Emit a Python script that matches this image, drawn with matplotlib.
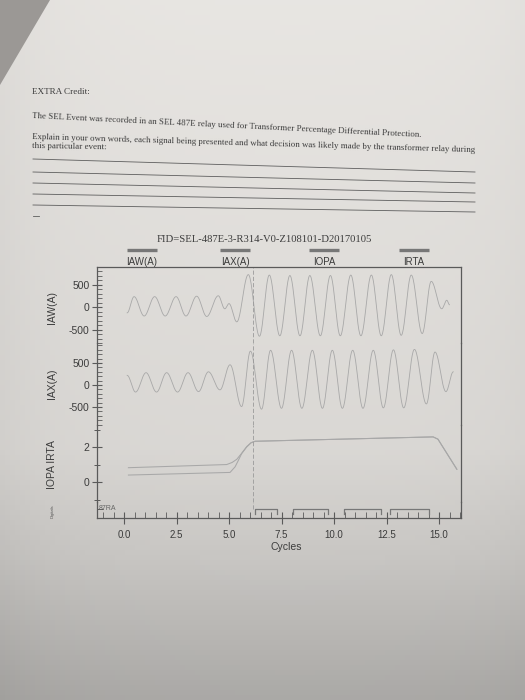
import numpy as np
import matplotlib
matplotlib.use("Agg")
import matplotlib.pyplot as plt
from matplotlib.lines import Line2D
from matplotlib.patches import Polygon
from matplotlib.ticker import MultipleLocator

W, H = 525, 700

# ─── data ────────────────────────────────────────────────────────────────────
# IAW(A): start point, every peak / trough, end point  (cycles, amps)
iaw_t = [0.15, 0.48, 0.96, 1.46, 1.96, 2.48, 2.95, 3.46, 3.94, 4.49, 4.80, 5.00,
         5.37, 5.92, 6.45, 6.92, 7.42, 7.90, 8.38, 8.85, 9.35, 9.83, 10.30,
         10.80, 11.28, 11.78, 12.25, 12.73, 13.20, 13.68, 14.20, 14.63, 15.13,
         15.37, 15.50]
iaw_v = [-130, 230, -200, 230, -200, 230, -200, 240, -210, 250, -40, 75,
         -330, 720, -650, 710, -640, 700, -640, 700, -640, 700, -640,
         710, -640, 710, -640, 720, -630, 710, -590, 570, -40,
         150, 50]

# IAX(A)
iax_t = [0.15, 0.55, 1.05, 1.55, 2.03, 2.55, 3.05, 3.55, 4.02, 4.57, 5.05,
         5.60, 6.02, 6.55, 6.98, 7.50, 7.98, 8.47, 8.97, 9.45, 9.92, 10.40,
         10.89, 11.38, 11.87, 12.35, 12.83, 13.32, 13.83, 14.40, 14.81, 15.33,
         15.68]
iax_v = [220, -160, 280, -160, 280, -160, 280, -150, 300, -110, 460,
         -490, 770, -550, 790, -530, 790, -530, 790, -530, 790, -530,
         790, -530, 790, -520, 800, -520, 810, -430, 750, -150,
         300]

# IRTA / IOPA (per unit)
irta_t = [0.21, 4.89, 5.15, 5.37, 5.60, 5.84, 6.05, 6.24, 14.72, 14.95, 15.85]
irta_v = [0.82, 1.00, 1.12, 1.30, 1.64, 2.02, 2.25, 2.33, 2.58, 2.45, 0.73]
iopa_t = [0.21, 5.05, 5.29, 5.45, 5.60, 5.84, 6.05, 6.24, 14.72, 14.95, 15.85]
iopa_v = [0.40, 0.55, 0.87, 1.25, 1.62, 2.00, 2.24, 2.33, 2.58, 2.45, 0.73]

# 87RA digital: asserted intervals (cycles)
ra87_on = [6.25, 8.03, 10.48, 12.67]
ra87_off = [7.30, 9.73, 12.22, 14.50]

trigger_cycle = 6.15
x_ticks = [0.0, 2.5, 5.0, 7.5, 10.0, 12.5, 15.0]
legend_names = ["IAW(A)", "IAX(A)", "IOPA", "IRTA"]

# ─── helpers ─────────────────────────────────────────────────────────────────
def px_rect(x0, y0, x1, y1):
    return [x0 / W, 1 - y1 / H, (x1 - x0) / W, (y1 - y0) / H]

def fx(x):
    return x / W

def fy(y):
    return 1 - y / H

def half_cos(ts, vs, n=24):
    """Draw each half-cycle as a half cosine between the read extrema."""
    xs, ys = [], []
    for t0, v0, t1, v1 in zip(ts[:-1], vs[:-1], ts[1:], vs[1:]):
        s = np.linspace(0, 1, n, endpoint=False)
        xs.append(t0 + (t1 - t0) * s)
        ys.append(v0 + (v1 - v0) * (1 - np.cos(np.pi * s)) / 2)
    xs.append([ts[-1]])
    ys.append([vs[-1]])
    return np.concatenate(xs), np.concatenate(ys)

SANS = "Liberation Sans"
SERIF = "Liberation Serif"
INK = "#3c3c3c"
TRACE = "#a8a8a8"
SPINE = "#5a5a5a"

fig = plt.figure(figsize=(W / 100, H / 100), dpi=100)

# ─── paper background ────────────────────────────────────────────────────────
bg = fig.add_axes([0, 0, 1, 1], zorder=-10)
yy = np.linspace(0, H, 140)[:, None]
xx = np.linspace(0, W, 105)[None, :]
shade = np.interp(yy, [0, 250, 450, 560, 700], [0.91, 0.88, 0.855, 0.785, 0.67])
shade = shade - 0.035 * np.exp(-xx / 60) - 0.02 * np.exp(-(W - xx) / 50)
rgb = np.dstack([shade * 1.0, shade * 0.99, shade * 0.975])
bg.imshow(np.clip(rgb, 0, 1), extent=[0, W, H, 0], aspect="auto")
bg.add_patch(Polygon([[0, 0], [50, 0], [0, 85]], closed=True,
                     color="#9b9895", lw=0))
bg.set_xlim(0, W)
bg.set_ylim(H, 0)
bg.axis("off")

# ─── worksheet text ──────────────────────────────────────────────────────────
fig.text(fx(32), fy(92), "EXTRA Credit:", family=SERIF, fontsize=6.6,
         color=INK, ha="left", va="center")
fig.text(fx(32), fy(116), "The SEL Event was recorded in an SEL 487E relay used "
         "for Transformer Percentage Differential Protection.",
         family=SERIF, fontsize=6.4, color=INK, ha="left", va="center",
         rotation=-2.8, rotation_mode="anchor")
fig.text(fx(32), fy(137), "Explain in your own words, each signal being presented "
         "and what decision was likely made by the transformer relay during",
         family=SERIF, fontsize=6.4, color=INK, ha="left", va="center",
         rotation=-1.7, rotation_mode="anchor")
fig.text(fx(32), fy(146), "this particular event:", family=SERIF, fontsize=6.5,
         color=INK, ha="left", va="center", rotation=-1.0, rotation_mode="anchor")

for x0, y0, x1, y1 in [(33, 159, 475, 172), (33, 172, 475, 183),
                       (33, 183, 475, 193), (33, 194, 475, 202),
                       (33, 205, 475, 212), (33, 216, 39, 216)]:
    fig.add_artist(Line2D([fx(x0), fx(x1)], [fy(y0), fy(y1)],
                          color="#5e5e5e", lw=0.6))

# ─── chart title + legend ────────────────────────────────────────────────────
fig.text(fx(264), fy(239), "FID=SEL-487E-3-R314-V0-Z108101-D20170105",
         family=SERIF, fontsize=7.7, color=INK, ha="center", va="center")
for name, cx in zip(legend_names, [142, 235, 324, 414]):
    fig.add_artist(Line2D([fx(cx - 15), fx(cx + 15)], [fy(250), fy(250)],
                          color="#777777", lw=2.4, solid_capstyle="butt"))
    fig.text(fx(cx), fy(262), name, family=SANS, fontsize=7, color=INK,
             ha="center", va="center")

# ─── panels ──────────────────────────────────────────────────────────────────
XL, XR = 97, 461
xlim = ((XL - 124) / 21, (XR - 124) / 21)

ax_w = fig.add_axes(px_rect(XL, 267, XR, 343))
ax_x = fig.add_axes(px_rect(XL, 343, XR, 425))
ax_d = fig.add_axes(px_rect(XL, 425, XR, 502))
ax_g = fig.add_axes(px_rect(XL, 502, XR, 518))
panels = [ax_w, ax_x, ax_d, ax_g]

ax_w.set_ylim(-800, 889)
ax_x.set_ylim(-909, 955)
ax_d.set_ylim(-1.14, 3.26)
ax_g.set_ylim(-0.8, 2.4)

for ax in panels:
    ax.set_xlim(*xlim)
    ax.patch.set_alpha(0)
    for side in ["top", "bottom"]:
        ax.spines[side].set_visible(False)
    for side in ["left", "right"]:
        ax.spines[side].set_color(SPINE)
        ax.spines[side].set_linewidth(0.9)
    ax.tick_params(axis="x", bottom=False, labelbottom=False)
    ax.tick_params(axis="y", colors=SPINE, labelcolor=INK, labelsize=7.5)

ax_w.spines["top"].set_visible(True)
ax_w.spines["top"].set_color(SPINE)
ax_w.spines["top"].set_linewidth(0.9)
ax_g.spines["bottom"].set_visible(True)
ax_g.spines["bottom"].set_color(SPINE)
ax_g.spines["bottom"].set_linewidth(0.9)

# traces
t, v = half_cos(iaw_t, iaw_v)
ax_w.plot(t, v, color=TRACE, lw=0.6)
t, v = half_cos(iax_t, iax_v)
ax_x.plot(t, v, color=TRACE, lw=0.6)
ax_d.plot(irta_t, irta_v, color=TRACE, lw=0.75)
ax_d.plot(iopa_t, iopa_v, color=TRACE, lw=0.75)

for on, off in zip(ra87_on, ra87_off):
    ax_g.plot([on, on, off, off], [0, 1, 1, 0], color="#777777", lw=0.9)

for ax in [ax_w, ax_x, ax_d]:
    ax.axvline(trigger_cycle, color="#9a9a9a", lw=0.6, ls=(0, (5, 2.5)))
ax_g.plot([trigger_cycle, trigger_cycle], [1, 2.4], color="#9a9a9a", lw=0.6,
          ls=(0, (5, 2.5)))

# y ticks
for ax in [ax_w, ax_x]:
    ax.set_yticks([-500, 0, 500])
    ax.set_yticklabels(["-500", "0", "500"], family=SANS)
    ax.yaxis.set_minor_locator(MultipleLocator(100))
    ax.tick_params(axis="y", which="major", direction="inout", length=7, pad=2,
                   width=0.8)
    ax.tick_params(axis="y", which="minor", direction="in", length=3.5,
                   width=0.6, colors=SPINE)
    ax.tick_params(axis="y", which="both", right=False)

ax_d.set_yticks([0, 2])
ax_d.set_yticklabels(["0", "2"], family=SANS)
ax_d.set_yticks([-1, 1, 3], minor=True)
ax_d.tick_params(axis="y", which="major", direction="inout", length=7, pad=2,
                 width=0.8)
ax_d.tick_params(axis="y", which="minor", direction="inout", length=5,
                 width=0.7, colors=SPINE)

ax_g.set_yticks([1])
ax_g.set_yticklabels([""])
ax_g.tick_params(axis="y", direction="in", length=4, width=0.7)
ax_g.text(-1.22, 1.15, "87RA", family=SANS, fontsize=5, color="#666666",
          ha="left", va="center")

# x axis
ax_g.tick_params(axis="x", bottom=True, labelbottom=True)
ax_g.set_xticks(x_ticks)
ax_g.set_xticklabels([f"{x:.1f}" for x in x_ticks], family=SANS)
ax_g.xaxis.set_minor_locator(MultipleLocator(0.5))
ax_g.tick_params(axis="x", which="major", direction="inout", length=9,
                 width=0.8, colors=SPINE, labelcolor=INK, labelsize=7, pad=4)
ax_g.tick_params(axis="x", which="minor", direction="in", length=4,
                 width=0.6, colors=SPINE)

fig.text(fx(286), fy(547), "Cycles", family=SANS, fontsize=7.5, color=INK,
         ha="center", va="center")

# y axis titles
for label, yc, size in [("IAW(A)", 307, 7.5), ("IAX(A)", 384, 7.5),
                        ("IOPA IRTA", 465, 7.5)]:
    fig.text(fx(52), fy(yc), label, family=SANS, fontsize=size, color=INK,
             rotation=90, ha="center", va="center")
fig.text(fx(53), fy(511), "Digitals", family=SANS, fontsize=3, color="#555555",
         rotation=90, ha="center", va="center")

fig.savefig("out.png", dpi=100)
plt.close(fig)
